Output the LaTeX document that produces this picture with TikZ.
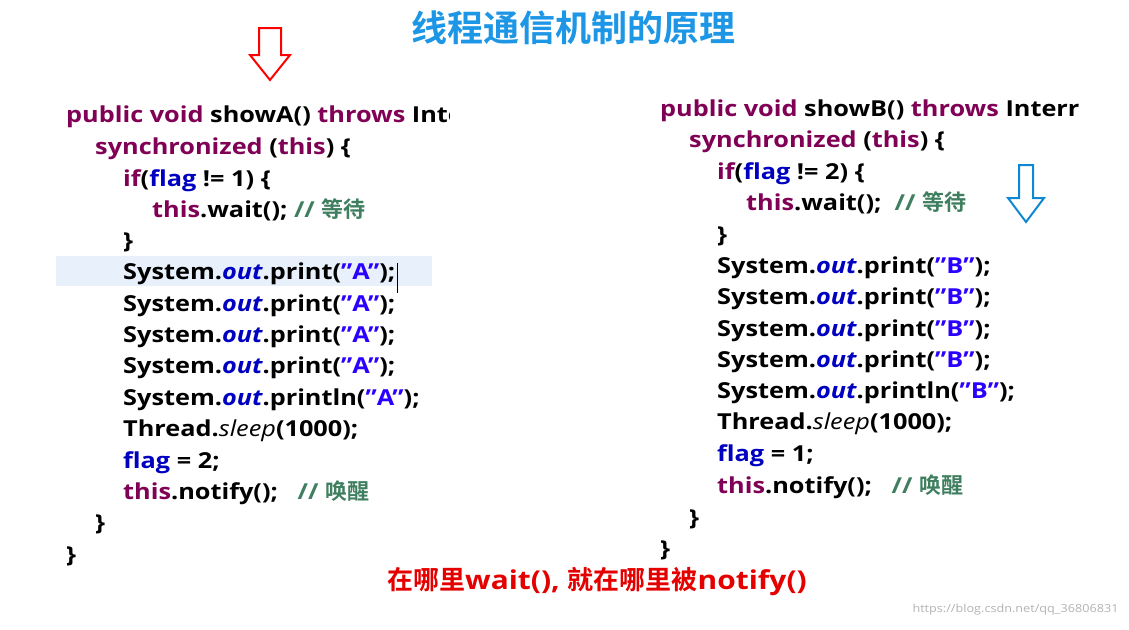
\documentclass[tikz,border=0pt]{standalone}
\usepackage{fontspec}
\setmainfont{Open Sans}[FakeStretch=1.15]
\newfontfamily\cjk{Noto Sans CJK SC}[BoldFont=* Bold]
\definecolor{kw}{RGB}{127,0,85}
\definecolor{fld}{RGB}{0,0,192}
\definecolor{cmt}{RGB}{63,127,95}
\definecolor{str}{RGB}{42,0,255}
\definecolor{ttl}{RGB}{30,150,230}
\definecolor{hl}{RGB}{232,241,251}
\newcommand\K[1]{\textcolor{kw}{#1}}
\newcommand\F[1]{\textcolor{fld}{#1}}
\newcommand\C[1]{\textcolor{cmt}{#1}}
\newcommand\Sx[1]{\textcolor{str}{\symbol{34}#1\symbol{34}}}
\newcommand\Ot{\textcolor{fld}{\itshape out}}
\begin{document}
\begin{tikzpicture}[x=1pt,y=-1pt,
  code/.style={anchor=base west,inner sep=0pt,font=\fontsize{22}{24}\selectfont\bfseries},
  arr/.style={line width=2pt,fill=white}]
\useasboundingbox (0,0) rectangle (1129,629);
\fill[hl] (56,256) rectangle (432,286);
\node[font=\cjk\fontsize{36}{40}\selectfont\bfseries,text=ttl] (title) at (573,28) {线程通信机制的原理};
\draw[arr,draw=red] (259,28) -- (281,28) -- (281,55) -- (290,55) -- (270,80) -- (250,55) -- (259,55) -- cycle;
\draw[arr,draw=cyan!70!blue] (1019,165) -- (1033,165) -- (1033,198) -- (1044,198) -- (1026,222) -- (1008,198) -- (1019,198) -- cycle;
\begin{scope}
\clip (0,90) rectangle (449,130);
\node[code] (a1) at (66,122) {\K{public void} showA() \K{throws} InterruptedException \{};
\end{scope}
\node[code] (a2) at (95,154) {\K{synchronized} (\K{this}) \{};
\node[code] (a3) at (123,186) {\K{if}(\F{flag} != 1) \{};
\node[code] (a4) at (152,217) {\K{this}.wait(); \C{// {\cjk\bfseries 等待}}};
\node[code] (a5) at (123,248) {\}};
\node[code] (a6) at (123,279) {System.\Ot.print(\Sx{A});};
\draw (a6.east) ++(2,-10) -- ++(0,30);
\node[code] (a7) at (123,311) {System.\Ot.print(\Sx{A});};
\node[code] (a8) at (123,342) {System.\Ot.print(\Sx{A});};
\node[code] (a9) at (123,373) {System.\Ot.print(\Sx{A});};
\node[code] (a10) at (123,405) {System.\Ot.println(\Sx{A});};
\node[code] (a11) at (123,436) {Thread.{\mdseries\itshape sleep}(1000);};
\node[code] (a12) at (123,468) {\F{flag} = 2;};
\node[code] (a13) at (123,499) {\K{this}.notify();\ \ \ \C{// {\cjk\bfseries 唤醒}}};
\node[code] (a14) at (95,530) {\}};
\node[code] (a15) at (66,562) {\}};
\begin{scope}
\clip (600,85) rectangle (1078,125);
\node[code] (b1) at (660,116) {\K{public void} showB() \K{throws} InterruptedException \{};
\end{scope}
\node[code] (b2) at (689,147) {\K{synchronized} (\K{this}) \{};
\node[code] (b3) at (717,179) {\K{if}(\F{flag} != 2) \{};
\node[code] (b4) at (746,210) {\K{this}.wait();\ \ \C{// {\cjk\bfseries 等待}}};
\node[code] (b5) at (717,242) {\}};
\node[code] (b6) at (717,273) {System.\Ot.print(\Sx{B});};
\node[code] (b7) at (717,304) {System.\Ot.print(\Sx{B});};
\node[code] (b8) at (717,336) {System.\Ot.print(\Sx{B});};
\node[code] (b9) at (717,367) {System.\Ot.print(\Sx{B});};
\node[code] (b10) at (717,398) {System.\Ot.println(\Sx{B});};
\node[code] (b11) at (717,429) {Thread.{\mdseries\itshape sleep}(1000);};
\node[code] (b12) at (717,461) {\F{flag} = 1;};
\node[code] (b13) at (717,493) {\K{this}.notify();\ \ \ \C{// {\cjk\bfseries 唤醒}}};
\node[code] (b14) at (689,525) {\}};
\node[code] (b15) at (660,556) {\}};
\node[font=\fontsize{26}{30}\selectfont\bfseries,text=red!90!black] (note) at (597,582) {{\cjk\bfseries 在哪里}wait(), {\cjk\bfseries 就在哪里被}notify()};
\node[font=\fontsize{11}{13}\selectfont,text=gray!60,anchor=east] (wm) at (1122,610) {https://blog.csdn.net/qq\_36806831};
\end{tikzpicture}
\end{document}
